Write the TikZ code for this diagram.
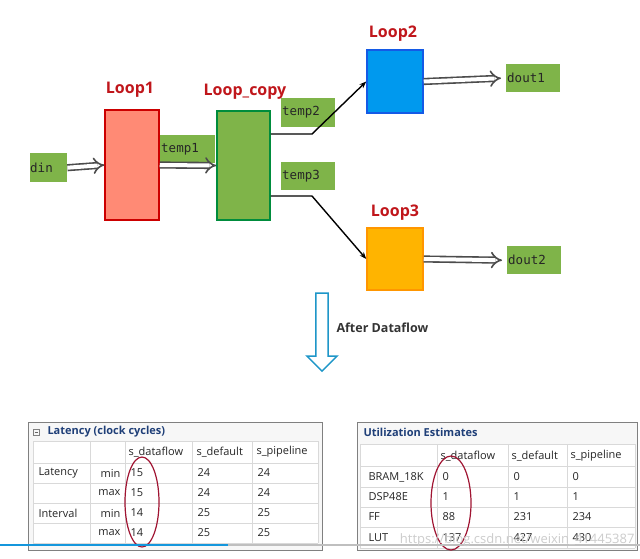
\documentclass[tikz,border=0pt]{standalone}
\usepackage{fontspec}
\setmainfont{Open Sans}
\newfontfamily\monof{DejaVu Sans Mono}
\usetikzlibrary{arrows.meta,shapes.arrows}
\definecolor{lg}{HTML}{7FB449}
\definecolor{tred}{HTML}{C0161B}
\definecolor{tb}{HTML}{1F3F78}
\definecolor{salmon}{RGB}{255,138,117}
\definecolor{dgreen}{RGB}{0,140,60}
\definecolor{bdr}{RGB}{20,90,230}
\definecolor{bfill}{RGB}{0,153,238}
\definecolor{odr}{RGB}{255,150,0}
\definecolor{ofill}{RGB}{255,180,0}
\definecolor{arrb}{RGB}{30,150,200}
\definecolor{ell}{RGB}{160,20,50}
\definecolor{barb}{RGB}{20,150,220}
\begin{document}
\begin{tikzpicture}[x=1pt,y=-1pt,
  lab/.style={fill=lg,inner sep=0pt,anchor=north west},
  ltx/.style={font=\monof\fontsize{12.5}{12.5}\selectfont,anchor=west,inner sep=0pt,text=black!85},
  box/.style={draw,line width=1.5pt,inner sep=0pt},
  ttl/.style={font=\bfseries\fontsize{16}{16}\selectfont,text=tred},
  dbl/.style={double distance=4pt,line width=1.6pt,draw=black!70,-{Implies[length=5pt,width=9pt]}},
  ln/.style={line width=1.4pt,-{Stealth[length=7pt]}},
  cell/.style={font=\fontsize{11}{11}\selectfont,anchor=west,text=black!85}]
\useasboundingbox (0,0) rectangle (640,558);
\fill[white] (0,0) rectangle (640,558);
% labels
\node[lab,minimum width=37pt,minimum height=29pt] (din) at (30,153) {};
\node[ltx] at (30,168) {din};
\node[lab,minimum width=55pt,minimum height=28pt] (t1) at (160,135) {};
\node[ltx] at (161,149) {temp1};
\node[lab,minimum width=54pt,minimum height=29pt] (t2) at (281,98) {};
\node[ltx] at (282,112) {temp2};
\node[lab,minimum width=54pt,minimum height=28pt] (t3) at (281,162) {};
\node[ltx] at (282,176) {temp3};
\node[lab,minimum width=54pt,minimum height=28pt] (d1) at (506,64) {};
\node[ltx] at (507,78) {dout1};
\node[lab,minimum width=54pt,minimum height=28pt] (d2) at (507,246) {};
\node[ltx] at (508,260) {dout2};
% boxes
\node[box,draw=red!80!black,fill=salmon,minimum width=54pt,minimum height=110pt] (L1) at (132,165) {};
\node[box,draw=dgreen,fill=lg,minimum width=53pt,minimum height=109pt] (LC) at (243.5,165.5) {};
\node[box,draw=bdr,fill=bfill,minimum width=56pt,minimum height=63pt] (L2) at (395,81.5) {};
\node[box,draw=odr,fill=ofill,minimum width=56pt,minimum height=62pt] (L3) at (395,259) {};
\node[ttl] at (130,90) {Loop1};
\node[ttl] at (245,92) {Loop\_copy};
\node[ttl] at (393,34) {Loop2};
\node[ttl] at (395,213) {Loop3};
% connectors
\draw[dbl] (din.east) -- (L1.west);
\draw[dbl] (L1.east) -- (LC.west);
\draw[dbl] (L2.east) -- ([xshift=-5pt]d1.west);
\draw[dbl] (L3.east) -- ([xshift=-5pt]d2.west);
\coordinate (a1) at (LC.east |- 0,134);
\coordinate (a2) at (LC.east |- 0,196);
\draw[ln] (a1) -- (312,134) -- (L2.west);
\draw[ln] (a2) -- (312,196) -- (L3.west);
% after dataflow arrow
\node[single arrow,draw=arrb,line width=1.5pt,fill=white,shape border rotate=270,minimum width=30pt,single arrow head extend=4pt,minimum height=78pt,inner sep=2pt] (dn) at (322,329) {};
\node[font=\bfseries\fontsize{12.5}{12.5}\selectfont,text=black!80,anchor=west] (ad) at (333,328) {After Dataflow};
% left table
\node[draw=black!50,fill=black!3,minimum width=294pt,minimum height=128pt,anchor=north west,inner sep=0pt] (lt) at (28,422) {};
\fill[white] (33,441) rectangle (318,543);
\foreach \y in {441,463,483,503,523,543} \draw[black!15] (33,\y) -- (318,\y);
\foreach \x in {33,90,125,192,252,318} \draw[black!15] (\x,441) -- (\x,543);
\node[cell,text=tb,font=\bfseries\fontsize{11}{11}\selectfont] at (44,432) {Latency (clock cycles)};
\draw[black!50] (33,429) rectangle (39,435); \draw[black!60] (34.5,432) -- (37.5,432);
\foreach \x/\t in {125/s\_dataflow,193/s\_default,253/s\_pipeline} \node[cell] at (\x,452) {\t};
\node[cell] at (35,473) {Latency}; \node[cell] at (35,513) {Interval};
\foreach \y/\t in {473/min,493/max,513/min,533/max} \node[cell,anchor=east] at (124,\y) {\t};
\foreach \y/\a/\b in {473/15/24,493/15/24,513/14/25,533/14/25} {
 \node[cell] at (127,\y) {\a}; \node[cell] at (194,\y) {\b}; \node[cell] at (254,\y) {\b};}
\draw[ell,line width=1.2pt] (142,502) ellipse [x radius=17, y radius=45];
% right table
\node[draw=black!50,fill=black!3,minimum width=280pt,minimum height=128pt,anchor=north west,inner sep=0pt] (rt) at (357,422) {};
\fill[white] (360,444) rectangle (635,548);
\foreach \y in {444,466,487,507,527,548} \draw[black!15] (360,\y) -- (635,\y);
\foreach \x in {360,437,508,567,635} \draw[black!15] (\x,444) -- (\x,548);
\node[cell,text=tb,font=\bfseries\fontsize{11}{11}\selectfont] at (360,432) {Utilization Estimates};
\foreach \x/\t in {437/s\_dataflow,508/s\_default,567/s\_pipeline} \node[cell] at (\x,456) {\t};
\foreach \y/\n/\a/\b/\c in {477/BRAM\_18K/0/0/0,497/DSP48E/1/1/1,517/FF/88/231/234,538/LUT/137/427/430} {
 \node[cell] at (365,\y) {\n}; \node[cell] at (439,\y) {\a}; \node[cell] at (510,\y) {\b}; \node[cell] at (569,\y) {\c};}
\draw[ell,line width=1.2pt] (451,503) ellipse [x radius=20, y radius=47];
% progress bar and watermark
\draw[black!25,line width=1.5pt] (228,545) -- (640,545);
\draw[barb,line width=2pt] (0,545) -- (228,545);
\node[font=\fontsize{13}{13}\selectfont,text=black!20,anchor=east] at (638,540) {https://blog.csdn.net/weixin\_41445387};
\end{tikzpicture}
\end{document}
